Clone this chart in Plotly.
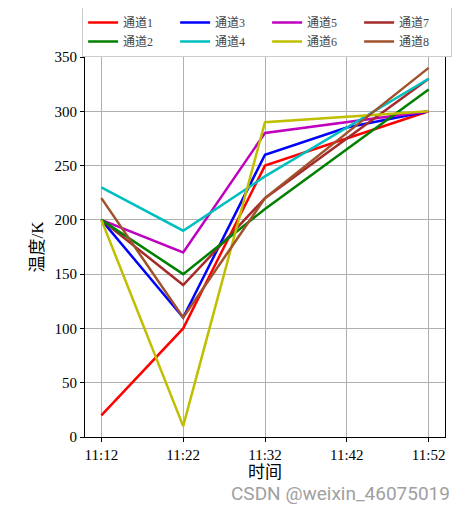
import plotly.graph_objects as go

# dados
tempos = ['11:12', '11:22', '11:32', '11:42', '11:52']
canal1 = [20, 100, 250, 275, 300]
canal2 = [200, 150, 210, 265, 320]
canal3 = [200, 110, 260, 285, 300]
canal4 = [230, 190, 240, 285, 330]
canal5 = [200, 170, 280, 290, 300]
canal6 = [200, 10, 290, 295, 300]
canal7 = [200, 140, 220, 275, 330]
canal8 = [220, 110, 220, 280, 340]

series = [
    ('通道1', canal1, '#ff0000'),
    ('通道3', canal3, '#0000ff'),
    ('通道5', canal5, '#bf00bf'),
    ('通道7', canal7, '#a52a2a'),
    ('通道2', canal2, '#008000'),
    ('通道4', canal4, '#00bfbf'),
    ('通道6', canal6, '#bfbf00'),
    ('通道8', canal8, '#a0522d'),
]

fonte = 'Liberation Serif, Noto Sans CJK SC, serif'

fig = go.Figure()
for nome, valores, cor in series:
    fig.add_trace(go.Scatter(
        x=list(range(len(tempos))),
        y=valores,
        mode='lines',
        name=nome,
        line=dict(color=cor, width=2.5),
    ))

# a página tem margem de 8px, então compensamos aqui
fig.update_layout(
    width=466,
    height=514,
    margin=dict(l=77, r=29, t=49, b=85, autoexpand=False),
    plot_bgcolor='white',
    paper_bgcolor='white',
    font=dict(family=fonte, size=15, color='black'),
    legend=dict(
        orientation='h',
        x=-0.008, y=1.0,
        xanchor='left', yanchor='bottom',
        entrywidth=47, entrywidthmode='pixels',
        itemwidth=30,
        bordercolor='#cccccc', borderwidth=1,
        bgcolor='white',
        font=dict(size=12, color='#444444'),
        tracegroupgap=0,
    ),
    showlegend=True,
)

fig.update_xaxes(
    tickvals=list(range(len(tempos))),
    ticktext=tempos,
    range=[-0.2, 4.2],
    automargin=False,
    showgrid=True, gridcolor='#b0b0b0', gridwidth=1,
    showline=True, linecolor='black', linewidth=1, mirror=True,
    ticks='outside', ticklen=4, tickcolor='black',
    zeroline=False,
    title=dict(text='时间', font=dict(size=17), standoff=2),
)
fig.update_yaxes(
    range=[0, 350],
    dtick=50,
    automargin=False,
    showgrid=True, gridcolor='#b0b0b0', gridwidth=1,
    showline=True, linecolor='black', linewidth=1, mirror=True,
    ticks='outside', ticklen=4, tickcolor='black',
    zeroline=False,
    title=dict(text='温度/K', font=dict(size=17), standoff=6),
)

fig.add_annotation(
    text='CSDN @weixin_46075019',
    xref='paper', yref='paper',
    x=1.02, y=-0.185, xanchor='right', yanchor='bottom',
    showarrow=False,
    font=dict(family='Roboto, Noto Sans, sans-serif', size=19, color='#a0a0a0'),
)

fig.write_html('out.html')
